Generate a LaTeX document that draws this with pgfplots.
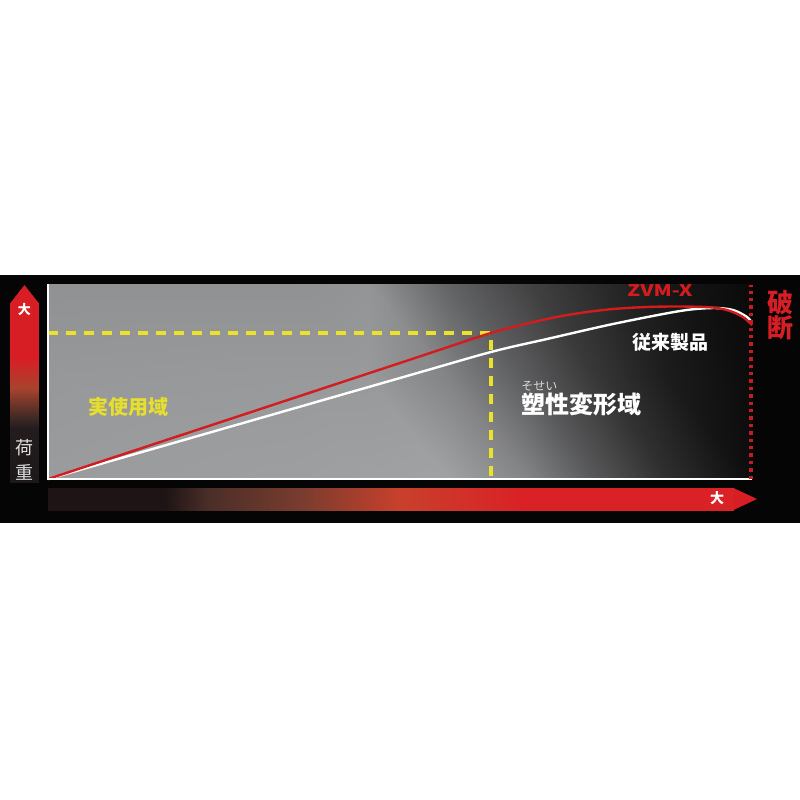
\documentclass[border=0pt]{standalone}
\usepackage{fontspec}
\usepackage{pgfplots}
\pgfplotsset{compat=1.18}
\newfontfamily\jp{Noto Sans CJK JP}
\definecolor{bandblack}{HTML}{050505}
\definecolor{zvmred}{HTML}{D41C1E}
\definecolor{ydash}{HTML}{ECE22B}
\definecolor{rdash}{HTML}{C41C24}
\definecolor{breakred}{HTML}{D81E25}
\definecolor{ytext}{HTML}{E6DF2C}
\begin{document}
\begin{tikzpicture}
\begin{axis}[
  scale only axis, width=352pt, height=97.5pt,
  xmin=0, xmax=704, ymin=0, ymax=195,
  axis lines=none, ticks=none, clip=false,
  point meta min=0, point meta max=1,
]
% page and black band
\fill[white] (axis cs:-48,-321) rectangle (axis cs:752,479);
\fill[bandblack] (axis cs:-48,-44) rectangle (axis cs:752,204);
% plot-area background gradient
\addplot[surf, shader=interp, mesh/rows=3, point meta=explicit,
  colormap={bgmap}{rgb255=(0,0,0) rgb255=(164,165,167)}] table[meta=c] {
x y c
0 0 0.94
250 0 0.96
320 0 0.97
400 0 0.98
480 0 0.80
550 0 0.52
620 0 0.28
704 0 0.08
0 100 0.92
250 100 0.93
320 100 0.93
400 100 0.80
480 100 0.55
550 100 0.33
620 100 0.17
704 100 0.07
0 195 0.88
250 195 0.88
320 195 0.90
400 195 0.60
480 195 0.40
550 195 0.26
620 195 0.14
704 195 0.06
};
% yellow dashed guides
\draw[ydash, line width=1.6pt, dash pattern=on 5pt off 4pt] (axis cs:0,146) -- (axis cs:443,146) -- (axis cs:443,0);
% conventional product (white)
\addplot[white, line width=1.2pt, smooth, tension=0.5] coordinates {
(0,0) (352,101) (443,127) (499,140) (565,155) (632,168) (665,171) (685,169) (699,162) (704,156)
};
% ZVM-X (red)
\addplot[zvmred, line width=1.2pt, smooth, tension=0.5] coordinates {
(0,0) (352,116) (443,146) (499,160) (532,166) (565,170) (599,172) (632,172.5) (665,171.5) (682,168) (695,162) (704,154)
};
% axis lines
\draw[white, line width=0.9pt] (axis cs:0,195) -- (axis cs:0,0) -- (axis cs:704,0);
% break line
\draw[rdash, line width=1.8pt, dash pattern=on 1.7pt off 2pt] (axis cs:703,0) -- (axis cs:703,194);
% vertical load arrow
\addplot[surf, shader=interp, mesh/rows=6, point meta=explicit,
  colormap={varrow}{rgb255=(29,24,25) rgb255=(36,28,28) rgb255=(58,40,36) rgb255=(168,67,46) rgb255=(216,30,37) rgb255=(216,30,37)}] table[meta=c] {
x y c
-38 -3 0
-9 -3 0
-38 51 0.2
-9 51 0.2
-38 60 0.4
-9 60 0.4
-38 91 0.6
-9 91 0.6
-38 121 0.8
-9 121 0.8
-38 176 1
-9 176 1
};
\fill[breakred] (axis cs:-38,175.5) -- (axis cs:-23.5,194) -- (axis cs:-9,175.5) -- cycle;
\node[white, font=\jp\bfseries\fontsize{6.5pt}{7pt}\selectfont] at (axis cs:-23.5,169) {大};
\node[white!88!black, font=\jp\fontsize{9pt}{10pt}\selectfont] at (axis cs:-23.5,31) {荷};
\node[white!88!black, font=\jp\fontsize{9pt}{10pt}\selectfont] at (axis cs:-23.5,7) {重};
% horizontal arrow
\addplot[surf, shader=interp, mesh/rows=2, point meta=explicit,
  colormap={harrow}{rgb255=(30,20,21) rgb255=(30,20,21) rgb255=(74,46,40) rgb255=(120,60,46) rgb255=(200,64,44) rgb255=(218,34,38) rgb255=(218,34,38)}] table[meta=c] {
x y c
0 -31 0
117 -31 0.1667
160 -31 0.3333
252 -31 0.5
352 -31 0.6667
472 -31 0.8333
686 -31 1
0 -9 0
117 -9 0.1667
160 -9 0.3333
252 -9 0.5
352 -9 0.6667
472 -9 0.8333
686 -9 1
};
\fill[breakred] (axis cs:685.5,-9) -- (axis cs:709,-20) -- (axis cs:685.5,-31) -- cycle;
\node[white, font=\jp\bfseries\fontsize{7pt}{8pt}\selectfont] at (axis cs:669,-19) {大};
% labels
\node[zvmred, font=\jp\bfseries\fontsize{8pt}{9pt}\selectfont, xscale=1.3] at (axis cs:612,188) {ZVM-X};
\node[white, font=\jp\bfseries\fontsize{9.5pt}{10pt}\selectfont] at (axis cs:623,137) {従来製品};
\node[white!85!black, font=\jp\fontsize{6pt}{7pt}\selectfont, anchor=west, inner sep=0pt] at (axis cs:473,93) {そせい};
\node[white, font=\jp\bfseries\fontsize{12pt}{13pt}\selectfont, anchor=west, inner sep=0pt] at (axis cs:473,75) {塑性変形域};
\node[ytext, font=\jp\bfseries\fontsize{10pt}{11pt}\selectfont, anchor=west, inner sep=0pt] at (axis cs:40,72) {実使用域};
\node[breakred, font=\jp\bfseries\fontsize{13pt}{14pt}\selectfont] at (axis cs:732,176) {破};
\node[breakred, font=\jp\bfseries\fontsize{13pt}{14pt}\selectfont] at (axis cs:732,151) {断};
\end{axis}
\end{tikzpicture}
\end{document}
